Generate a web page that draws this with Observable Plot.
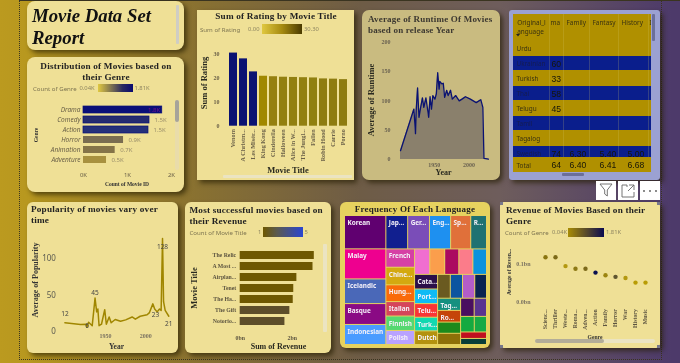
<!DOCTYPE html>
<html><head><meta charset="utf-8">
<script src="https://cdn.jsdelivr.net/npm/d3@7"></script>
<script src="https://cdn.jsdelivr.net/npm/@observablehq/plot@0.6"></script>
<style>
html,body{margin:0;padding:0;background:#6e5d48;}
#page{position:relative;width:680px;height:363px;overflow:hidden;filter:blur(.35px);
background:linear-gradient(90deg,#bb9a1f 0,#b8981f 26px,#8a7230 190px,#6e5c46 360px,#6e5d5c 500px,#4d3a6a 672px);}
.card{position:absolute;box-shadow:3px 3px 5px rgba(35,28,0,.65);}
.t{position:absolute;white-space:nowrap;line-height:1;}
.box{position:absolute;}
</style></head><body><div id="page"></div>
<script>
// ---------- data ----------
const genreNames=["Drama","Comedy","Action","Horror","Animation","Adventure"];
const genreCounts=[1790,1500,1477,910,720,523];
const genreLabels=["1.8K","1.5K","1.5K","0.9K","0.7K","0.5K"];
const genreColors=["#0a0f78","#252b70","#25307a","#7a6d50","#857448","#a8913f"];

const ratingTitles=["Venom","A Christm...","Les Misér...","King Kong","Cinderella","Halloween","Alice in W...","The Jungl...","Fallen","Robin Hood","Carrie","Porno"];
const ratingSums=[30.3,27.9,22.5,20.7,20.5,20.3,20.2,20.1,20,19.6,19.5,19.3];
const ratingColors=["#0a1272","#0a1272","#0a1272","#a08800","#958010","#938010","#928010","#928010","#908010","#8e7c10","#8e7c10","#8e7c10"];

const runtimeYears=[1901.4,1920.7,1923,1924,1926,1928,1930,1933,1935,1938,1940,1942,1944,1946,1948,1951,1953,1955,1957,1958,1961,1963,1965,1968,1970,1973.5,1976,1981,1986,1990,1995,2002,2010.5,2017,2020,2021.6,2028];
const runtimeMeans=[15,86,44,84,122,72,86,105,89,105,89,72,107,86,109,103,112,148,120,133,129,130,106,118,109,118,103,109,100,103,107,103,97,102,89,2,0.5];

const tableRowNames=["h1","h2","Urdu","Ukrainian","Turkish","Thai","Telugu","Tamil","Tagalog","Swedish"];
const tableLangLabels=["Original_l","anguage","Urdu","Ukrainian","Turkish","Thai","Telugu","Tamil","Tagalog","Swedish"];
const tableHeaders=["ma","Family","Fantasy","History","I"];
const tableDrama=["","","","60","33","58","45","","","74"];
const tableFamily=["","","","","","","","","","6.30"];
const tableFantasy=["","","","","","","","","","5.40"];
const tableHistory=["","","","","","","","","","5.00"];
const tableTotals=["Total","64","6.40","6.41","6.68"];

const popYears=[1899.6,1919,1926,1927,1929,1933.5,1937,1939,1940.5,1942,1945,1949,1951,1954.5,1957,1962,1968.6,1975,1983,1987,1993,2001.6,2004.5,2008.7,2011,2014,2017,2019,2020.7,2022,2024,2028.5];
const popMeans=[12,9.6,10,6,12.8,8,46,27,31,8,10,30,10,20,12,16.5,14,16,20,17,21,23,26,38,31,27,31,29,128,41,29,21];
const popLabelYears=[1899.6,1927,1937,2017,2020.7,2028.5];
const popLabelVals=[12,6,45,23,128,21];

const revenueTitles=["The Relic","A Most ...","Airplan...","Tenet","The Ha...","The Gift","Notorio..."];
const revenueSums=[2.85,2.8,2.18,2.06,2.04,1.91,1.72];
const revenueColors=["#6e5800","#6e5800","#6e5800","#6e5800","#6e5800","#5d4e2a","#5d4e2a"];

const langNames=["Korean","Malay","Icelandic","Basque","Indonesian","Jap...","Ger...","Eng...","Sp...","R...","French","Chine...","Hung...","Italian","Finnish","Polish","","","","","","Cata...","Port...","Telu...","Turk...","Dutch","","","","","Tag...","Ro...","","","","","","","",""];
const langCounts=[123,111,91,77,74,65,65,63,60,47,47,45,43,37,37,36,34.5,34,32,32,31,30,30,28,28,28,27,26,26,25,25,24,23,23,22,20,19,17,15,14];
const langGroups=[5,5,6,5,5,4,4,2,2,2];
const langColors=["#600070","#ee008f","#4a68b8","#8a0a84","#4a9bff","#111f8f","#7a4db8","#1e90f0","#e0703a","#1f7272","#d63fa5","#d4a910","#f96a0a","#d5455a","#55d870","#b9a2ff","#f06ed0","#fb9e4c","#ab0a60","#fb7c8a","#0b92dc","#2b0f4a","#10bbf5","#f93535","#12d8b0","#b3920f","#6a5a20","#0c55a0","#b35dc8","#0a2350","#159080","#c5450a","#1c8a1c","#8e7008","#4a0f60","#5a3590","#14aa40","#16aa45","#c0101f","#083f38"];

const revGenres=["Scienc...","Thriller","Weste...","Roma...","Adven...","Action","Family","Horror","War","History","Music"];
const revGenreMeans=[.117,.117,.094,.087,.087,.077,.070,.066,.063,.051,.051];
const revGenreColors=["#8a7510","#7d6a18","#b39810","#8e7a15","#7d6a1a","#0a1050","#9c8410","#5f5530","#b39810","#b89c05","#b89c05"];

// ---------- helpers ----------
const page=document.getElementById("page");
const SERIF='"Liberation Serif",serif', SANS='"Noto Sans",sans-serif', NUM='"Liberation Sans",sans-serif';
function card(x,y,w,h,bg,r){const d=document.createElement("div");d.className="card";
 d.style.cssText=`left:${x}px;top:${y}px;width:${w}px;height:${h}px;background:${bg};border-radius:${r}px`;page.append(d);return d;}
function box(x,y,w,h,bg,r=0){const d=document.createElement("div");d.className="box";
 d.style.cssText=`left:${x}px;top:${y}px;width:${w}px;height:${h}px;background:${bg};border-radius:${r}px`;page.append(d);return d;}
function txt(x,y,s,o={}){const d=document.createElement("div");d.className="t";d.textContent=s;
 d.style.cssText=`left:${x}px;top:${y}px;font:${o.style||"normal"} ${o.weight||"normal"} ${o.size||7}px ${o.font||SANS};color:${o.color||"#222"};transform:${o.tf||"translate(0,-50%)"};letter-spacing:${o.ls||0}px`;
 page.append(d);return d;}
function vtxt(x,y,s,o={}){return txt(x,y,s,{...o,tf:"translate(-50%,-50%) rotate(-90deg)"});}
function ctxt(x,y,s,o={}){return txt(x,y,s,{...o,tf:"translate(-50%,-50%)"});}
function place(opts,x,y,over="visible"){
 const p=Plot.plot({style:{background:"transparent",overflow:over,position:"absolute",left:x+"px",top:y+"px"},...opts});
 page.append(p);return p;}
function legend(lx,y,label,lo,loX,hi,hiX,gx,gw,gh,grad){
 txt(lx,y,label,{size:6.1,color:"#7d7450"});txt(loX,y,lo,{size:5.8,color:"#8d8460"});
 txt(hiX,y,hi,{size:5.8,color:"#8d8460"});
 box(gx,y-gh/2,gw,gh,`linear-gradient(90deg,${grad})`);}
const TITLE={weight:"bold",size:9.2,font:SERIF,color:"#222",ls:.2};
const tk={tickSize:0};

// ---------- frame ----------
const fr=document.createElement("div");fr.style.cssText="position:absolute;left:18.5px;top:-2px;width:641px;height:361px;border:1.5px dotted #3a3420;border-top:none";page.append(fr);
box(19,0,661,1,"#3a3420");

// ---------- title card ----------
card(27,1,157,49,"#efe096",8);
txt(32,16,"Movie Data Set",{style:"italic",weight:"bold",size:18.8,font:SERIF,color:"#111"});
txt(32,37.5,"Report",{style:"italic",weight:"bold",size:18.8,font:SERIF,color:"#111"});
box(176,5,3,39,"#cfcdc4",1);

// ---------- distribution ----------
card(27,57,157,135,"#efe096",8);
ctxt(106,66,"Distribution of Movies based on",TITLE);
ctxt(106,77,"their Genre",TITLE);
legend(33,87.5,"Count of Genre","0.04K",79.5,"1.81K",134.5,98,35,8,"#e0c840,#2a2a60 70%,#0a0a70");
place({width:157,height:135,marginLeft:56,marginRight:13,marginTop:46,marginBottom:25,
 x:{domain:[0,2000]},y:{domain:genreNames,padding:.27},color:{type:"identity"},
 marks:[
  Plot.barX(genreNames,{y:d=>d,x:(d,i)=>genreCounts[i],fill:(d,i)=>genreColors[i],stroke:(d,i)=>i<3?"#0a0f78":"none",strokeWidth:.7}),
  Plot.text(genreNames.slice(1),{y:d=>d,x:(d,i)=>genreCounts[i+1],text:(d,i)=>genreLabels[i+1],dx:5,textAnchor:"start",fontSize:6,fill:"#9a8e6a"}),
  Plot.text(genreNames.slice(0,1),{y:d=>d,x:()=>genreCounts[0],text:()=>genreLabels[0],dx:-2,textAnchor:"end",fontSize:6,fill:"#70108a"}),
  Plot.axisY({...tk,tickPadding:3,fontSize:6.5,fontStyle:"italic",fill:"#6b6148",label:null}),
  Plot.axisX([0,1000,2000],{...tk,tickPadding:5,fontSize:6,fill:"#6b6148",label:null,tickFormat:d=>d/1000+"K"})
 ]},27,57);
vtxt(36,135,"Genre",{weight:"bold",size:5.5,font:SERIF,color:"#333"});
ctxt(127,184,"Count of Movie ID",{weight:"bold",size:5.5,font:SERIF,color:"#333"});
box(175,100,4,70,"#e9dcaa",2);box(175,100,4,22,"#a7a49a",2);

// ---------- rating ----------
card(197,10,157,170,"#efe096",0);
ctxt(276,15.5,"Sum of Rating by Movie Title",TITLE);
legend(200,28.5,"Sum of Rating","0.00",248,"30.30",304,262,40,10,"#e0c840,#a58a10 50%,#4a3a00");
place({width:157,height:170,marginLeft:29,marginRight:5,marginTop:43.3,marginBottom:54.3,
 x:{domain:ratingTitles,padding:.22},y:{domain:[0,30]},color:{type:"identity"},
 marks:[
  Plot.barY(ratingTitles,{x:d=>d,y:(d,i)=>ratingSums[i],fill:(d,i)=>ratingColors[i]}),
  Plot.axisY([0,10,20,30],{...tk,tickPadding:7,fontSize:6,fontWeight:"bold",fontFamily:SERIF,fill:"#6b6148",label:null}),
  Plot.axisX({...tk,tickPadding:3,tickRotate:-90,fontSize:6.2,fontWeight:"bold",fontFamily:SERIF,fill:"#6b6148",label:null})
 ]},197,10);
vtxt(204,83,"Sum of Rating",{weight:"bold",size:8.5,font:SERIF,color:"#2a2a20"});
ctxt(288,170,"Movie Title",{weight:"bold",size:8.5,font:SERIF,color:"#2a2a20"});
box(223,175,129,3,"#ebe4c2",1);

// ---------- runtime ----------
card(362,10,138,170,"#c9bb80",7);
txt(368,19,"Average of Runtime Of Movies",{...TITLE,size:9,color:"#3c3830"});
txt(368,30,"based on release Year",{...TITLE,size:9,color:"#3c3830"});
place({width:138,height:170,marginLeft:38,marginRight:12.1,marginTop:31.7,marginBottom:21,
 x:{domain:[1901.4,2028]},y:{domain:[0,200]},
 marks:[
  Plot.areaY(runtimeYears,{x:d=>d,y:(d,i)=>runtimeMeans[i],fill:"#8a806c"}),
  Plot.lineY(runtimeYears,{x:d=>d,y:(d,i)=>runtimeMeans[i],stroke:"#0a1272",strokeWidth:1.3}),
  Plot.axisY([0,50,100,150,200],{...tk,tickPadding:10,fontSize:6,fontWeight:"bold",fontFamily:SERIF,fill:"#6a6250",label:null}),
  Plot.axisX([1950,2000],{...tk,tickPadding:3,fontSize:6,fontWeight:"bold",fontFamily:SERIF,fill:"#6a6250",label:null,tickFormat:d=>String(d)})
 ]},362,10);
vtxt(371,100,"Average of Runtime",{weight:"bold",size:8.5,font:SERIF,color:"#2a2a20"});
ctxt(443.5,172,"Year",{weight:"bold",size:8,font:SERIF,color:"#2a2a20"});

// ---------- table ----------
card(509,10,151,170,"#9ba1d2",3);
box(513,14,138,158,"#b09000");
const gold="#b09000", blue="#0a1e8c";
const rowFill=tableRowNames.map(r=>["Ukrainian","Thai","Tamil","Swedish"].includes(r)?blue:gold);
const tableMarks=[
 Plot.barX(tableRowNames,{y:d=>d,x1:()=>0,x2:()=>138,fill:(d,i)=>rowFill[i]}),
 Plot.ruleX([36,50,76,105,135],{stroke:"#d8c870",strokeOpacity:.35,strokeWidth:.6}),
 Plot.text(tableRowNames.slice(2),{y:d=>d,x:()=>3,text:(d,i)=>tableLangLabels[i+2],textAnchor:"start",fontSize:6.4,fontFamily:SANS,fill:(d,i)=>rowFill[i+2]===blue?"#151c50":"#3a3210"}),
 Plot.text(tableRowNames.slice(0,1),{y:d=>d,x:()=>3.7,dy:4,text:()=>tableLangLabels[0],textAnchor:"start",fontSize:6.4,fontFamily:SANS,fill:"#3a3210"}),
 Plot.text(tableRowNames.slice(1,2),{y:d=>d,x:()=>3.7,dy:-1.5,text:()=>tableLangLabels[1],textAnchor:"start",fontSize:6.4,fontFamily:SANS,fill:"#3a3210"}),
 ...tableHeaders.map((h,k)=>Plot.text(["h1"],{y:d=>d,x:()=>[37,53,79,108,136][k],dy:4,text:()=>h,textAnchor:"start",fontSize:6.4,fontFamily:SANS,fill:"#3a3210"}))
];
[[tableDrama,38],[tableFamily,56],[tableFantasy,86],[tableHistory,114]].forEach(([col,x])=>{
 tableMarks.push(Plot.text(tableRowNames,{y:d=>d,x:()=>x,dy:1,text:(d,i)=>col[i],textAnchor:"start",fontSize:8.6,fontFamily:NUM,fill:"#161608"}));
});
place({width:138,height:143,margin:0,x:{domain:[0,138],range:[0,138],axis:null},
 y:{domain:tableRowNames,range:[-5.5,149.5],padding:.04,axis:null},color:{type:"identity"},marks:tableMarks},513,14,"hidden");
const totRow=["Total"];
place({width:138,height:15,margin:0,x:{domain:[0,138],range:[0,138],axis:null},y:{domain:totRow,range:[0,15],axis:null},
 marks:[
  Plot.barX(totRow,{y:d=>d,x1:()=>0,x2:()=>138,fill:gold}),
  Plot.text(totRow,{y:d=>d,x:()=>3,text:()=>tableTotals[0],textAnchor:"start",fontSize:6.4,fontFamily:SANS,fill:"#3a3210"}),
  ...[[1,38],[2,56],[3,86],[4,114]].map(([k,x])=>Plot.text(totRow,{y:d=>d,x:()=>x,text:()=>tableTotals[k],textAnchor:"start",fontSize:8.6,fontFamily:NUM,fill:"#161608"}))
 ]},513,157,"hidden");
page.insertAdjacentHTML("beforeend",`<svg width="4" height="3" style="position:absolute;left:516px;top:33.5px"><path d="M0 0h4L2 2.5z" fill="#222"/></svg>`);
box(652,14,3,27,"#6b6f9a",1);box(562,173,22,3,"#6b6f9a",1);

// ---------- action icons ----------
box(596,181,20,19,"#fff");box(618,181,20,19,"#fff");box(640,181,20,19,"#fff");
page.insertAdjacentHTML("beforeend",`<svg width="64" height="19" style="position:absolute;left:596px;top:181px" fill="none" stroke="#666" stroke-width=".9">
<path d="M4 3h12l-4.7 6v6l-2.6-2V9z"/><path d="M31 6v-2h-5v12h12v-5M33 4h5v5M38 4l-6 6" /><g fill="#555" stroke="none"><circle cx="48" cy="10" r=".9"/><circle cx="54" cy="10" r=".9"/><circle cx="60" cy="10" r=".9"/></g></svg>`);

// ---------- popularity ----------
card(27,202,151,151,"#efe096",6);
txt(31,209,"Popularity of movies vary over",TITLE);
txt(31,220,"time",TITLE);
const popDy=[-9,-1,-6,0,8,8], popDx=[0,0,0,-4,0,0];
place({width:151,height:151,marginLeft:37.4,marginRight:9.7,marginTop:34.5,marginBottom:22,
 x:{domain:[1899.6,2028.5]},y:{domain:[0,130]},
 marks:[
  Plot.lineY(popYears,{x:d=>d,y:(d,i)=>popMeans[i],stroke:"#a08600",strokeWidth:1.5}),
  ...popLabelYears.map((yr,k)=>Plot.text([yr],{x:d=>d,y:()=>popLabelVals[k],text:()=>String(popLabelVals[k]),dy:popDy[k],dx:popDx[k],fontSize:6.5,fill:"#444"})),
  Plot.axisY([0,50,100],{...tk,tickPadding:9,fontSize:8,fill:"#5a5a50",label:null}),
  Plot.axisX([1950,2000],{...tk,tickPadding:2,fontSize:6,fontWeight:"bold",fontFamily:SERIF,fill:"#7a7260",label:null,tickFormat:d=>String(d)})
 ]},27,202);
vtxt(35,280,"Average of Popularity",{weight:"bold",size:8,font:SERIF,color:"#333"});
ctxt(116.5,345.5,"Year",{weight:"bold",size:7.5,font:SERIF,color:"#333"});

// ---------- revenue by title ----------
card(185,202,146,151,"#efe096",6);
txt(189.5,209.5,"Most successful movies based on",TITLE);
txt(189.5,220.5,"their Revenue",TITLE);
legend(189.5,232,"Count of Movie Title","1",258,"5",304.5,263,40,10,"#6e5800,#5a5a50 35%,#2a46d0");
place({width:146,height:151,marginLeft:54.7,marginRight:13.3,marginTop:45,marginBottom:25,
 x:{domain:[0,3]},y:{domain:revenueTitles,padding:.3},color:{type:"identity"},
 marks:[
  Plot.barX(revenueTitles,{y:d=>d,x:(d,i)=>revenueSums[i],fill:(d,i)=>revenueColors[i]}),
  Plot.axisY({...tk,tickPadding:4,fontSize:5.8,fontWeight:"bold",fontFamily:SERIF,fill:"#5d5540",label:null}),
  Plot.axisX([0,2],{...tk,tickPadding:7,fontSize:5.8,fontWeight:"bold",fontFamily:SERIF,fill:"#5d5540",label:null,tickFormat:d=>d+"bn"})
 ]},185,202);
vtxt(193.5,288,"Movie Title",{weight:"bold",size:8.5,font:SERIF,color:"#2a2a20"});
ctxt(278.5,346,"Sum of Revenue",{weight:"bold",size:8,font:SERIF,color:"#2a2a20"});
box(323,244,3.5,88,"#ebe4c2",1);

// ---------- treemap ----------
card(340,202,150,146,"#e6d25f",6);
ctxt(415,209,"Frequency Of Each Language",{...TITLE,size:9,ls:.2});
function tileGroups(parent,x0,y0,x1,y1){
 const kids=parent.children; let at=0, remaining=parent.value;
 for(const n of langGroups){
  const group=kids.slice(at,at+n); at+=n;
  const sum=d3.sum(group,d=>d.value);
  const tmp={children:group,value:sum};
  if(x1-x0<y1-y0){ // row across the top
   const h=(y1-y0)*sum/remaining;
   d3.treemapDice(tmp,x0,y0,x1,y0+h); y0+=h;
  }else{ // column down the left
   const w=(x1-x0)*sum/remaining;
   d3.treemapSlice(tmp,x0,y0,x0+w,y1); x0+=w;
  }
  remaining-=sum;
 }
}
const root=d3.hierarchy({children:langCounts.map((v,i)=>({v,i}))}).sum(d=>d.v||0);
d3.treemap().size([141,128]).paddingInner(1).tile(tileGroups)(root);
const tiles=root.leaves();
place({width:150,height:146,marginLeft:5,marginRight:4,marginTop:14,marginBottom:4,
 x:{domain:[0,141],axis:null},y:{domain:[0,128],range:[14,142],axis:null},color:{type:"identity"},
 marks:[
  Plot.rect(tiles,{x1:"x0",x2:"x1",y1:"y0",y2:"y1",fill:d=>langColors[d.data.i],inset:0}),
  Plot.text(tiles,{x:d=>d.x0+2,y:d=>d.y0+6.5,text:d=>langNames[d.data.i],textAnchor:"start",fontSize:6.4,fontWeight:"bold",fontFamily:SANS,fill:"#f4f0f8"})
 ]},340,202);

// ---------- revenue by genre ----------
card(500,202,160,146,"#efe096",4);
txt(506,210,"Revenue of Movies Based on their",TITLE);
txt(506,221,"Genre",TITLE);
legend(505,232,"Count of Genre","0.04K",552,"1.81K",606,568,36,9,"#a88c05,#0a0a50");
place({width:160,height:146,marginLeft:37.5,marginRight:7.3,marginTop:53.6,marginBottom:46.3,
 x:{domain:revGenres},y:{domain:[0,.12]},color:{type:"identity"},
 marks:[
  Plot.dot(revGenres,{x:d=>d,y:(d,i)=>revGenreMeans[i],r:2.2,fill:(d,i)=>revGenreColors[i]}),
  Plot.axisY([0,.1],{...tk,tickPadding:7.5,fontSize:6,fontFamily:SERIF,fontWeight:"bold",fill:"#7a7260",label:null,tickFormat:d=>d.toFixed(1)+"bn"}),
  Plot.axisX({...tk,tickPadding:7,tickRotate:-90,fontSize:5.8,fontWeight:"bold",fontFamily:SERIF,fill:"#5d5540",label:null})
 ]},500,202);
vtxt(509,272,"Average of Reven...",{weight:"bold",size:5.6,font:SERIF,color:"#333"});
ctxt(595,336.5,"Genre",{weight:"bold",size:5.6,font:SERIF,color:"#333"});
box(535,339,120,3.5,"#ebe4c2",2);box(535,339,69,3.5,"#b3ad98",2);
[[500,202],[657,202],[500,345],[657,345]].forEach(([x,y])=>box(x,y,3,3,"#77778a"));
</script></body></html>
